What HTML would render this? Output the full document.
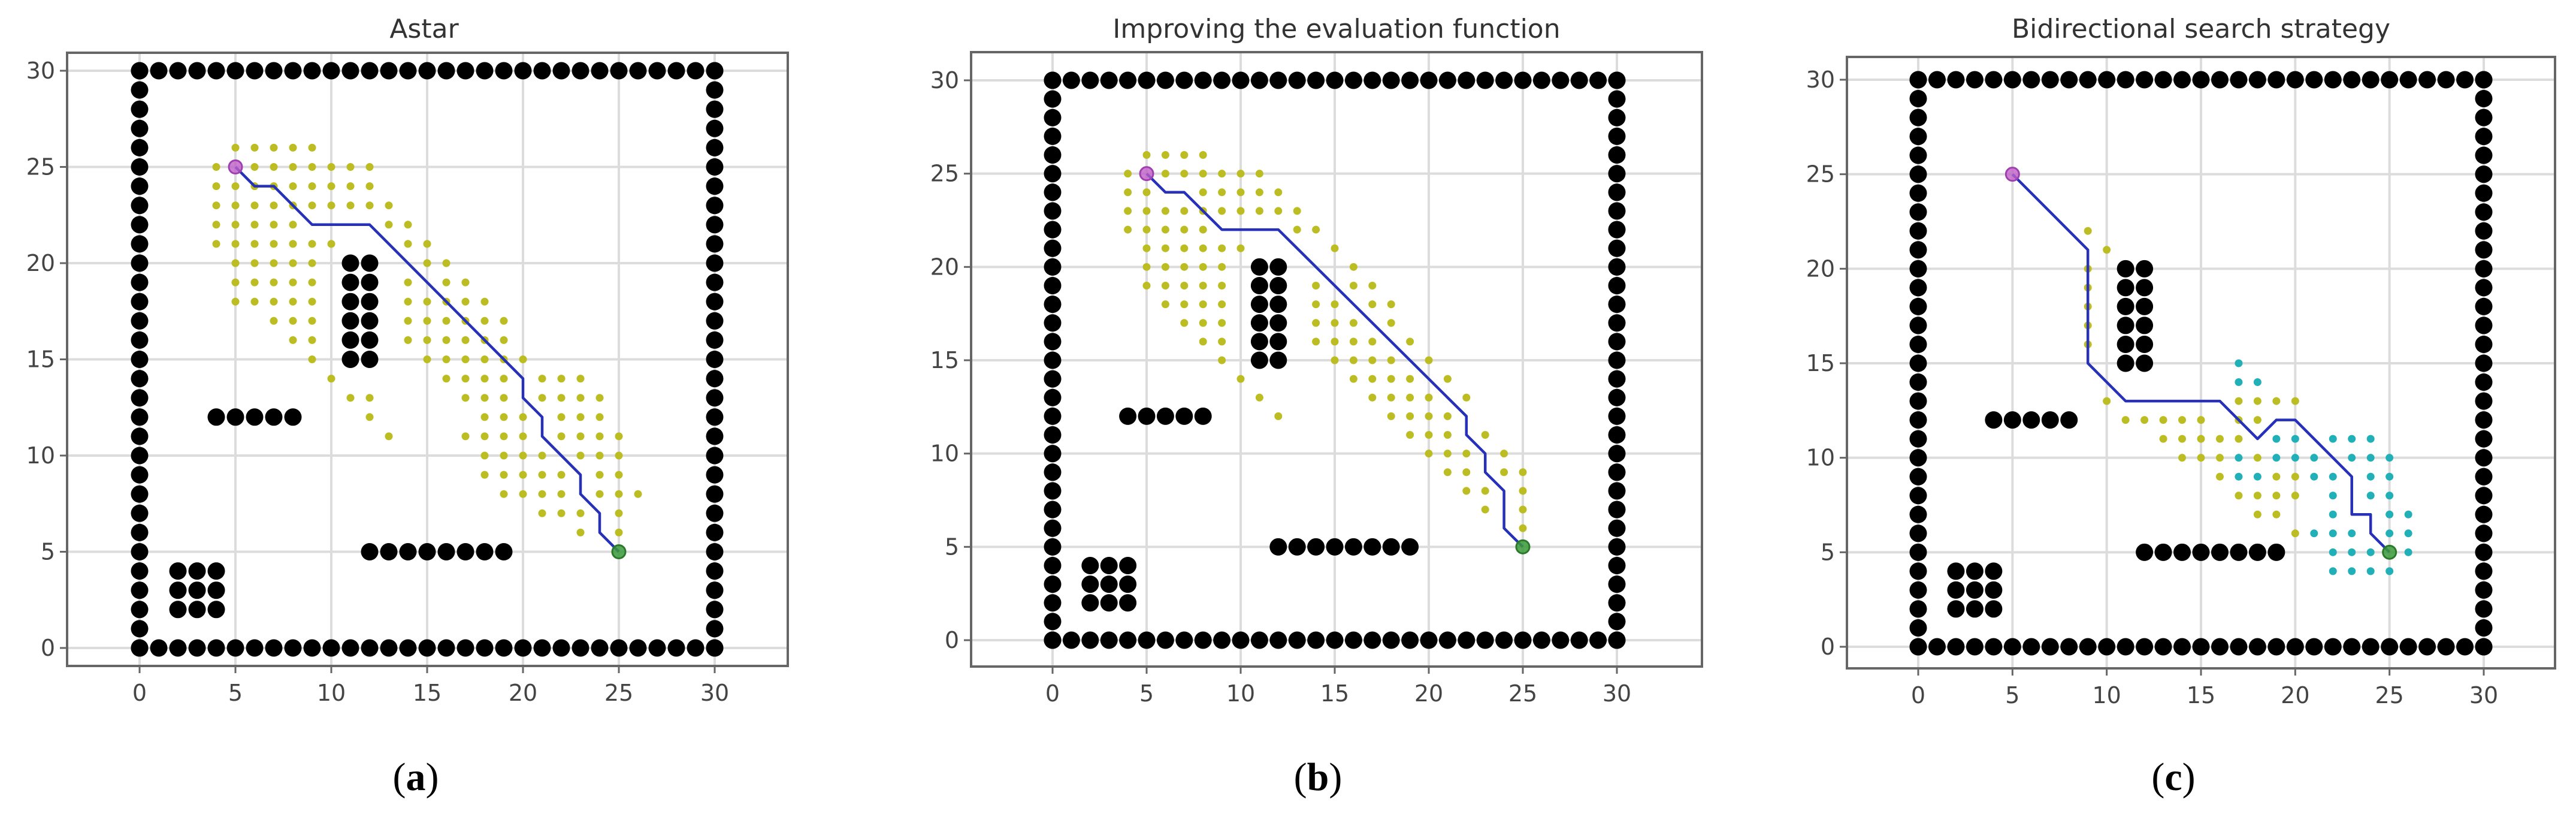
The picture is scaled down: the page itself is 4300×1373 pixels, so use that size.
<!DOCTYPE html>
<html><head><meta charset="utf-8"><style>
html,body{margin:0;padding:0;background:#fff;}
svg{display:block;font-family:"DejaVu Sans","Liberation Sans",sans-serif;}
</style></head><body>
<svg id="fig" width="4300" height="1373" viewBox="0 0 4300 1373" xmlns="http://www.w3.org/2000/svg"></svg>
<script>
// ---- data ----
const ticks = [0,5,10,15,20,25,30];
const tickLabels = ["0","5","10","15","20","25","30"];
const titles = ["Astar","Improving the evaluation function","Bidirectional search strategy"];
const captions = ["a","b","c"];
// obstacle rectangles [x1,x2,y1,y2] (inclusive, integer grid)
const obstacleRects = [[0,30,0,0],[0,30,30,30],[0,0,0,30],[30,30,0,30],[11,12,15,20],[4,8,12,12],[12,19,5,5],[2,4,2,4]];
const startPt = [5,25];
const goalPt = [25,5];
// visited rows: [y, [x...]]
const visitedA = [
 [26,[5,6,7,8,9]],[25,[4,6,7,8,9,10,11,12]],[24,[4,5,6,7,8,9,10,11,12]],[23,[4,5,6,7,8,9,10,11,12,13]],
 [22,[4,5,6,7,8,13,14]],[21,[4,5,6,7,8,9,10,14,15]],[20,[5,6,7,8,9,15,16]],[19,[5,6,7,8,9,14,16,17]],
 [18,[5,6,7,8,9,14,15,16,17,18]],[17,[7,8,9,14,15,16,17,18,19]],[16,[8,9,14,15,16,17,18,19]],
 [15,[9,15,16,17,18,19,20]],[14,[10,16,17,18,19,21,22,23]],[13,[11,12,17,18,19,21,22,23,24]],
 [12,[12,18,19,20,22,23,24]],[11,[13,17,18,19,20,22,23,24,25]],[10,[18,19,20,21,23,24,25]],
 [9,[18,19,20,21,22,24,25]],[8,[19,20,21,22,24,25,26]],[7,[21,22,23,25]],[6,[23,25]]];
const pathA = [[5,25],[6,24],[7,24],[9,22],[12,22],[20,14],[20,13],[21,12],[21,11],[23,9],[23,8],[24,7],[24,6],[25,5]];
const visitedB = [
 [26,[5,6,7,8]],[25,[4,6,7,8,9,10,11]],[24,[4,5,8,9,10,11,12]],[23,[4,5,6,7,8,9,10,11,12,13]],
 [22,[4,5,6,7,8,13,14]],[21,[5,6,7,8,9,10,15]],[20,[5,6,7,8,9,16]],[19,[5,6,7,8,9,14,16,17]],
 [18,[6,7,8,9,14,15,17,18]],[17,[7,8,9,14,15,16,18]],[16,[8,9,14,15,16,17,19]],[15,[9,15,16,17,18,20]],
 [14,[10,16,17,18,19,21]],[13,[11,17,18,19,20,22]],[12,[12,18,19,20,21]],[11,[19,20,21,23]],
 [10,[20,21,22,24]],[9,[21,22,24,25]],[8,[22,23,25]],[7,[23,25]],[6,[25]]];
const pathB = [[5,25],[6,24],[7,24],[9,22],[12,22],[22,12],[22,11],[23,10],[23,9],[24,8],[24,6],[25,5]];
const visitedC = [
 [22,[9]],[21,[10]],[20,[9]],[19,[9]],[18,[9]],[17,[9]],[16,[9]],[13,[10,17,18,19,20]],
 [12,[11,12,13,14,15,17,18]],[11,[13,14,15,16,17]],[10,[14,15,16,18]],[9,[16,19,20]],
 [8,[17,18,19,20]],[7,[18,19]],[6,[20]]];
const visitedC2 = [
 [15,[17]],[14,[17,18]],[11,[19,20,22,23,24]],[10,[17,19,20,21,23,24,25]],[9,[17,18,21,22,24,25]],
 [8,[22,24,25]],[7,[22,25,26]],[6,[21,22,23,25,26]],[5,[22,23,24,26]],[4,[22,23,24,25]]];
const pathC = [[5,25],[9,21],[9,15],[11,13],[16,13],[18,11],[19,12],[20,12],[23,9],[23,7],[24,7],[24,6],[25,5]];

const panels = [
 {box:[112,1315,88,1111], x0:233, x30:1193, y0:1081, y30:118, tx:708, cx:694, vis:[visitedA], path:pathA},
 {box:[1621,2841,87,1112], x0:1757, x30:2699, y0:1068, y30:134, tx:2231, cx:2200, vis:[visitedB], path:pathB},
 {box:[3083,4265,95,1115], x0:3202, x30:4146, y0:1079, y30:133, tx:3674, cx:3628, vis:[visitedC,visitedC2], path:pathC}
];
const visColors = ["#bcbd22","#22b0b8"];

const NS="http://www.w3.org/2000/svg";
const svg=document.getElementById('fig');
function mk(tag,attrs,parent){const e=document.createElementNS(NS,tag);for(const k in attrs)e.setAttribute(k,attrs[k]);(parent||svg).appendChild(e);return e;}

panels.forEach((p,i)=>{
  const sx=v=>p.x0+(p.x30-p.x0)*v/30;
  const sy=v=>p.y0+(p.y30-p.y0)*v/30;
  const g=mk('g',{});
  
  
  const [L,R,T,B]=p.box;
  // grid
  ticks.forEach(t=>{
    const gx=mk('line',{x1:sx(t),x2:sx(t),y1:T,y2:B,stroke:'#dcdcdc','stroke-width':4},g);
    
    
    const gy=mk('line',{x1:L,x2:R,y1:sy(t),y2:sy(t),stroke:'#dcdcdc','stroke-width':4},g);
    
    
  });
  // obstacles
  obstacleRects.forEach(r=>{
    for(let x=r[0];x<=r[1];x++)for(let y=r[2];y<=r[3];y++){
      const c=mk('circle',{cx:sx(x),cy:sy(y),r:14.5,fill:'#000'},g);
      
      
    }
  });
  // visited
  p.vis.forEach((vs,k)=>{
    vs.forEach(row=>{
      row[1].forEach(x=>{
        const c=mk('circle',{cx:sx(x),cy:sy(row[0]),r:6.5,fill:visColors[k]},g);
        
        
      });
    });
  });
  // path
  const pl=mk('polyline',{points:p.path.map(q=>sx(q[0])+','+sy(q[1])).join(' '),fill:'none',stroke:'#2630b8','stroke-width':4.5,'stroke-linejoin':'round'},g);
  
  
  const s=mk('circle',{cx:sx(startPt[0]),cy:sy(startPt[1]),r:11,fill:'#c060c8',stroke:'#a040b0','stroke-width':3,'fill-opacity':0.8},g);
  
  
  const e=mk('circle',{cx:sx(goalPt[0]),cy:sy(goalPt[1]),r:11,fill:'#3a9a3a',stroke:'#2a7a2a','stroke-width':3,'fill-opacity':0.85},g);
  
  
  // spines
  const fr=mk('rect',{x:L,y:T,width:R-L,height:B-T,fill:'none',stroke:'#666','stroke-width':4},g);
  
  
  // ticks
  ticks.forEach((t,j)=>{
    mk('line',{x1:sx(t),x2:sx(t),y1:B,y2:B+12,stroke:'#666','stroke-width':3},g);
    const xl=mk('text',{x:sx(t),y:B+58,'font-size':38,'text-anchor':'middle',fill:'#444'},g);
    xl.textContent=tickLabels[j];
    
    
    mk('line',{x1:L-12,x2:L,y1:sy(t),y2:sy(t),stroke:'#666','stroke-width':3},g);
    const yl=mk('text',{x:L-20,y:sy(t)+13,'font-size':38,'text-anchor':'end',fill:'#444'},g);
    yl.textContent=tickLabels[j];
    
    
  });
  const tt=mk('text',{x:p.tx,y:63,'font-size':44,'text-anchor':'middle',fill:'#333'},g);
  tt.textContent=titles[i];
  
  
  const cp=mk('text',{x:p.cx,y:1318,'font-size':66,'text-anchor':'middle',fill:'#000','font-family':'"Liberation Serif",serif'},g);
  cp.innerHTML='(<tspan font-weight="bold">'+captions[i]+'</tspan>)';
  
  
});
</script>
</body></html>
